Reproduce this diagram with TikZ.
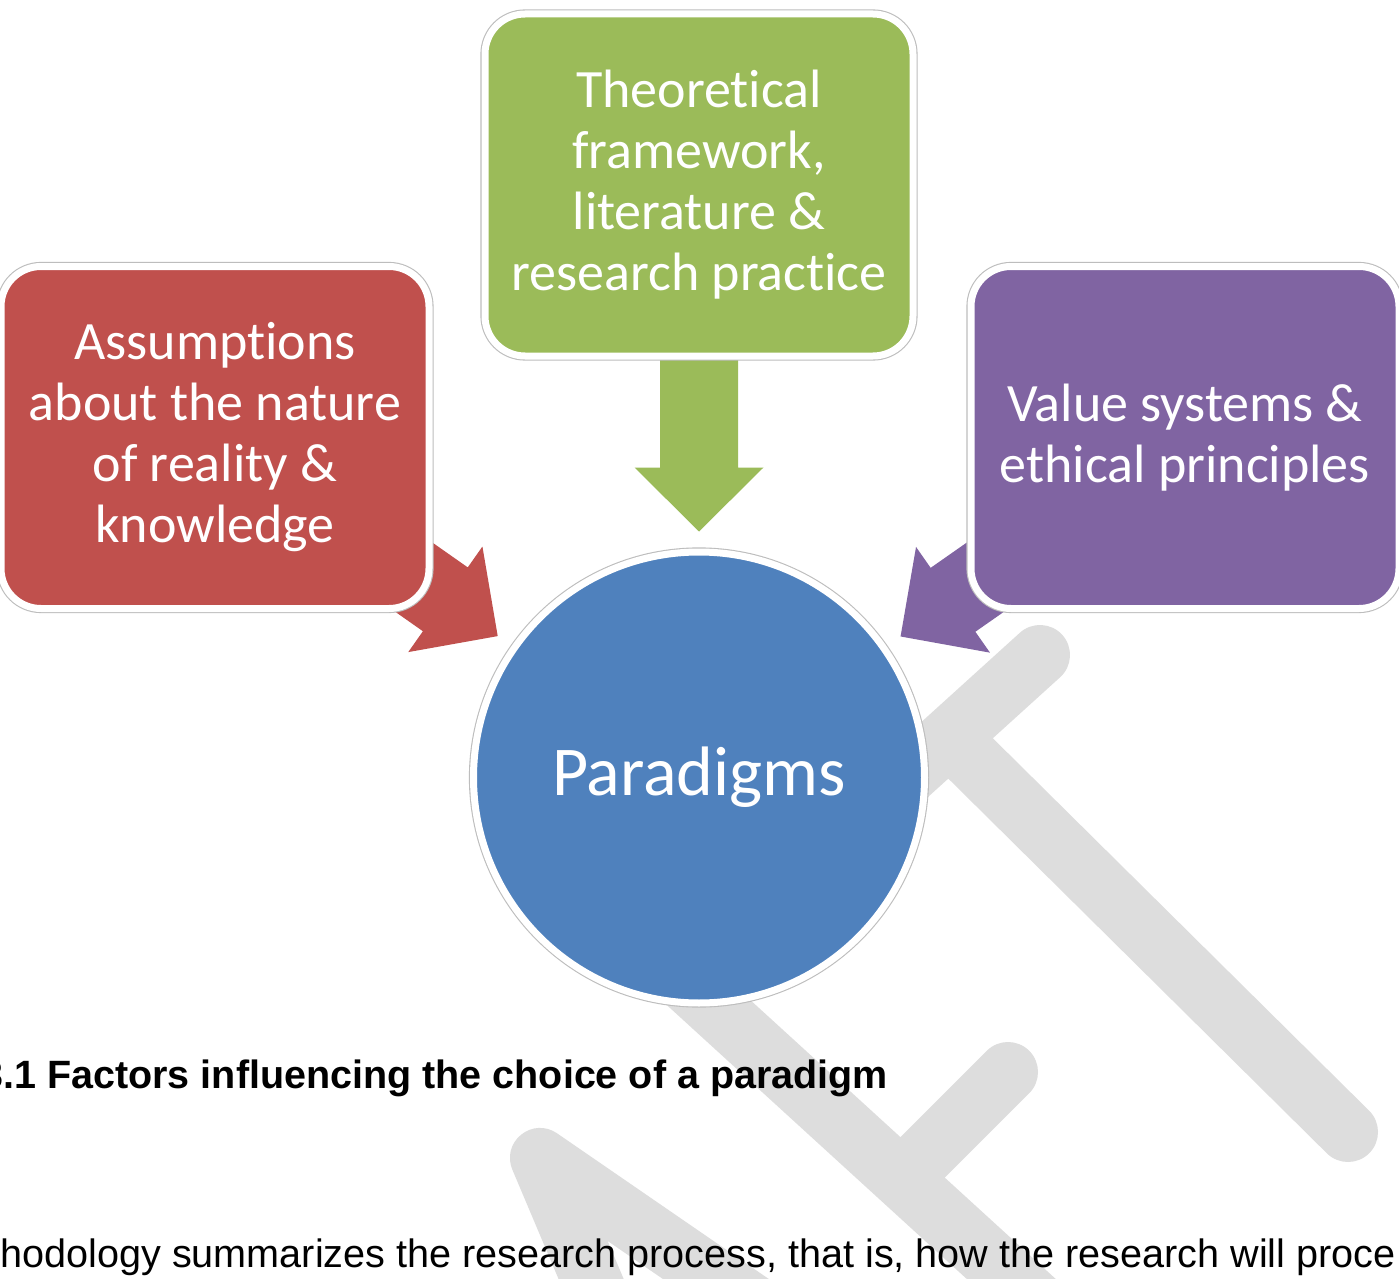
\documentclass[tikz,border=0pt]{standalone}
\usepackage{fontspec}
\setmainfont{Liberation Sans}
\newfontfamily\calfont[Ligatures=NoCommon]{Carlito}
\usetikzlibrary{calc}
\definecolor{ored}{HTML}{C0504D}
\definecolor{ogreen}{HTML}{9BBB59}
\definecolor{opurple}{HTML}{8064A2}
\definecolor{oblue}{HTML}{4F81BD}
\definecolor{ringgray}{HTML}{BDBDBD}
\definecolor{wmgray}{HTML}{DDDDDD}
\pgfdeclarelayer{wm}
\pgfdeclarelayer{bg}
\pgfsetlayers{wm,bg,main}
\newcommand\blockarrow[2]{%
  \coordinate (arrtip) at ($(par.center)!123pt!(#1.center)$);
  \coordinate (arrmid) at ($(arrtip)!32pt!(#1.center)$);
  \fill[#2] (arrtip) -- ($(arrmid)!32.25pt!90:(arrtip)$) -- ($(arrmid)!19.5pt!90:(arrtip)$)
    -- ($(#1.center)!19.5pt!90:(arrtip)$) -- ($(#1.center)!19.5pt!-90:(arrtip)$)
    -- ($(arrmid)!19.5pt!-90:(arrtip)$) -- ($(arrmid)!32.25pt!-90:(arrtip)$) -- cycle;}
\tikzset{
  ringed/.style={draw=white, line width=3.5pt, preaction={draw=ringgray, line width=4.6pt}},
  boxstyle/.style={ringed, rounded corners=20pt, minimum width=214pt, minimum height=171pt,
    inner sep=0pt, align=center, text=white, font=\calfont\fontsize{27}{30.5}\selectfont},
  circstyle/.style={ringed, circle, minimum size=225.5pt, inner sep=0pt, fill=oblue,
    text=white, font=\calfont\fontsize{35}{42}\selectfont},
  wmline/.style={draw=wmgray, line width=30pt, line cap=round, line join=round},
  plaintext/.style={anchor=base west, inner sep=0pt, text=black}
}
\begin{document}
\begin{tikzpicture}[x=0.5pt,y=-0.5pt]
\useasboundingbox (0,0) rectangle (1399,1279);
\clip (0,0) rectangle (1399,1279);
% nodes
\node[boxstyle, fill=ored] (red) at (215,437.5) {Assumptions\\about the nature\\of reality \&\\knowledge};
\node[boxstyle, fill=ogreen] (grn) at (699,185) {Theoretical\\framework,\\literature \&\\research practice};
\node[boxstyle, fill=opurple] (pur) at (1185,437.5) {Value systems \&\\ethical principles};
\node[circstyle] (par) at (699,777.5) {Paradigms};
% block arrows
\begin{pgfonlayer}{bg}
\blockarrow{red}{ored}
\blockarrow{grn}{ogreen}
\blockarrow{pur}{opurple}
\end{pgfonlayer}
% watermark
\begin{pgfonlayer}{wm}
\fill[white] (0,0) rectangle (1399,1279);
\coordinate (tbarA) at (880,800);
\coordinate (tbarB) at (1040,655);
\coordinate (tstemA) at (955,743);
\coordinate (tstemB) at (1348,1132);
\coordinate (fstemA) at (651,950);
\coordinate (fstemB) at (1100,1360);
\coordinate (farmA) at (902,1178);
\coordinate (farmB) at (1008,1072);
\coordinate (alegL) at (600,1300);
\coordinate (aapex) at (540,1158);
\coordinate (alegR) at (790,1330);
\draw[wmline] (tbarA) -- (tbarB);
\draw[wmline] (tstemA) -- (tstemB);
\draw[wmline] (fstemA) -- (fstemB);
\draw[wmline] (farmA) -- (farmB);
\draw[wmline] (alegL) -- (aapex) -- (alegR);
\end{pgfonlayer}
% texts
\node[plaintext, font=\bfseries\fontsize{19.75}{24}\selectfont] (cap) at (-19,1088) {3.1 Factors influencing the choice of a paradigm};
\node[plaintext, font=\fontsize{19.8}{24}\selectfont] (body) at (0,1267) {hodology summarizes the research process, that is, how the research will proce};
\end{tikzpicture}
\end{document}
